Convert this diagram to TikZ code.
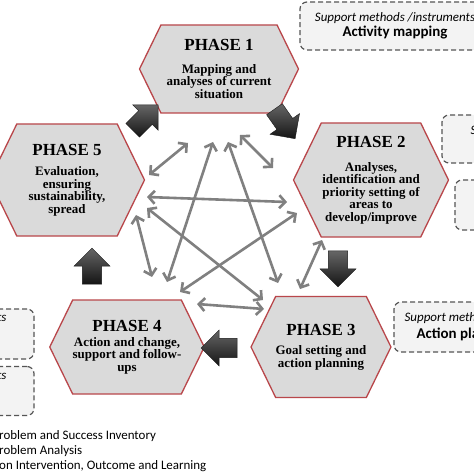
\documentclass[tikz,border=0pt]{standalone}
\usepackage{fontspec}
\setmainfont{Liberation Serif}
\newfontfamily\calibri{Carlito}
\usepackage{xcolor}
\usepackage{tikz}
\usetikzlibrary{shapes.symbols,shapes.arrows,arrows.meta,positioning,calc}
\definecolor{hexred}{HTML}{B9474B}
\definecolor{hexfill}{HTML}{DADADA}
\definecolor{linkgray}{HTML}{808080}
\definecolor{boxfill}{HTML}{F3F3F3}
\definecolor{boxline}{HTML}{555555}
\newcommand{\phasetitle}[1]{{\fontsize{17}{18}\selectfont #1}}
\newcommand{\methodfont}{\calibri\itshape\fontsize{13}{15}\selectfont}
\newcommand{\toolfont}{\calibri\bfseries\fontsize{15}{16}\selectfont}

\begin{document}
\begin{tikzpicture}[
  x=1bp, y=-1bp,
  phase/.style={signal, signal to=east and west, signal pointer angle=128, draw=hexred, line width=1.3bp, fill=hexfill, inner sep=0pt, align=center, font=\bfseries\fontsize{13}{12.5}\selectfont},
  flow/.style={single arrow, top color=black!60, bottom color=black!92, draw=black!90, single arrow head extend=8bp, single arrow head indent=0bp, inner xsep=0pt, inner ysep=9bp, minimum width=36bp, minimum height=36bp},
  link/.style={{Straight Barb[length=6bp,width=13bp]}-{Straight Barb[length=6bp,width=13bp]}, draw=linkgray, line width=2.6bp},
  support/.style={draw=boxline, dashed, dash pattern=on 5bp off 3bp, line width=1.2bp, rounded corners=7bp, fill=boxfill, align=center},
  method/.style={font=\methodfont, inner sep=0pt},
  legend/.style={font=\calibri\fontsize{13}{15}\selectfont, anchor=west, inner sep=0pt}
]
\clip (0,0) rectangle (474,474);
\fill[white] (0,0) rectangle (474,474);

\node[phase, minimum width=159bp, minimum height=88bp] (p1) at (219,69) {\phasetitle{PHASE 1}\\[10pt]Mapping and\\analyses of current\\situation};
\node[phase, minimum width=155bp, minimum height=114bp] (p2) at (371,180) {\phasetitle{PHASE 2}\\[12pt]Analyses,\\identification and\\priority setting of\\areas to\\develop/improve};
\node[phase, minimum width=134bp, minimum height=101bp] (p3) at (321,347) {\phasetitle{PHASE 3}\\[7pt]Goal setting and\\action planning};
\node[phase, minimum width=153bp, minimum height=94bp] (p4) at (127,347) {\phasetitle{PHASE 4}\\[3pt]Action and change,\\support and follow-\\ups};
\node[phase, minimum width=155bp, minimum height=112bp] (p5) at (67,180) {\phasetitle{PHASE 5}\\[8pt]Evaluation,\\ensuring\\sustainability,\\spread};

\node[flow, rotate=45] (f51) at (142,121) {};
\node[flow, rotate=-55] (f12) at (282,120) {};
\node[flow, rotate=-90] (f23) at (338,264) {};
\node[flow, rotate=180] (f34) at (224,348) {};
\node[flow, rotate=90] (f45) at (92,271) {};

\draw[link] ($(p5)+(82,-5)$) -- ($(p1)+(-31,74)$);
\draw[link] ($(p1)+(21,66)$) -- ($(p2)+(-98,-12)$);
\draw[link] ($(p2)+(-49,60)$) -- ($(p3)+(-21,-58)$);
\draw[link] ($(p3)+(-57,-38)$) -- ($(p4)+(70,-43)$);
\draw[link] ($(p4)+(25,-70)$) -- ($(p5)+(69,35)$);
\draw[link] ($(p1)+(9,73)$) -- ($(p3)+(-43,-64)$);
\draw[link] ($(p1)+(-6,73)$) -- ($(p4)+(40,-65)$);
\draw[link] ($(p2)+(-84,22)$) -- ($(p5)+(80,17)$);
\draw[link] ($(p5)+(80,28)$) -- ($(p3)+(-58,-47)$);
\draw[link] ($(p2)+(-74,33)$) -- ($(p4)+(53,-55)$);

\node[support, minimum width=190bp, minimum height=48bp] (s1) at (395,26) {{\methodfont Support methods /instruments}\\[1pt]{\toolfont Activity mapping}};
\node[support, minimum width=180bp, minimum height=48bp] (s2) at (532,139) {};
\node[support, minimum width=180bp, minimum height=50bp] (s3) at (545,205) {};
\node[support, minimum width=180bp, minimum height=50bp] (s4) at (484,327) {};
\node[support, minimum width=180bp, minimum height=50bp] (s5) at (-56,334) {};
\node[support, minimum width=180bp, minimum height=49bp] (s6) at (-56,391) {};

\node[method, anchor=west] (m2) at ($(s2.west)+(29,-8)$) {Support methods /instruments};
\node[method, anchor=west] (m4) at ($(s4.west)+(11,-9)$) {Support methods /instruments};
\node[font=\toolfont, inner sep=0pt, anchor=west] (t4) at ($(s4.west)+(23,8)$) {Action planning};
\node[method, anchor=east] (m5) at ($(s5.east)+(-28,-16)$) {Support methods /instruments};
\node[method, anchor=east] (m6) at ($(s6.east)+(-28,-15)$) {Support methods /instruments};

\node[legend] (l1) at (-1,436) {roblem and Success Inventory};
\node[legend] (l2) at (-1,451) {roblem Analysis};
\node[legend] (l3) at (-1,466) {on Intervention, Outcome and Learning};
\end{tikzpicture}
\end{document}
